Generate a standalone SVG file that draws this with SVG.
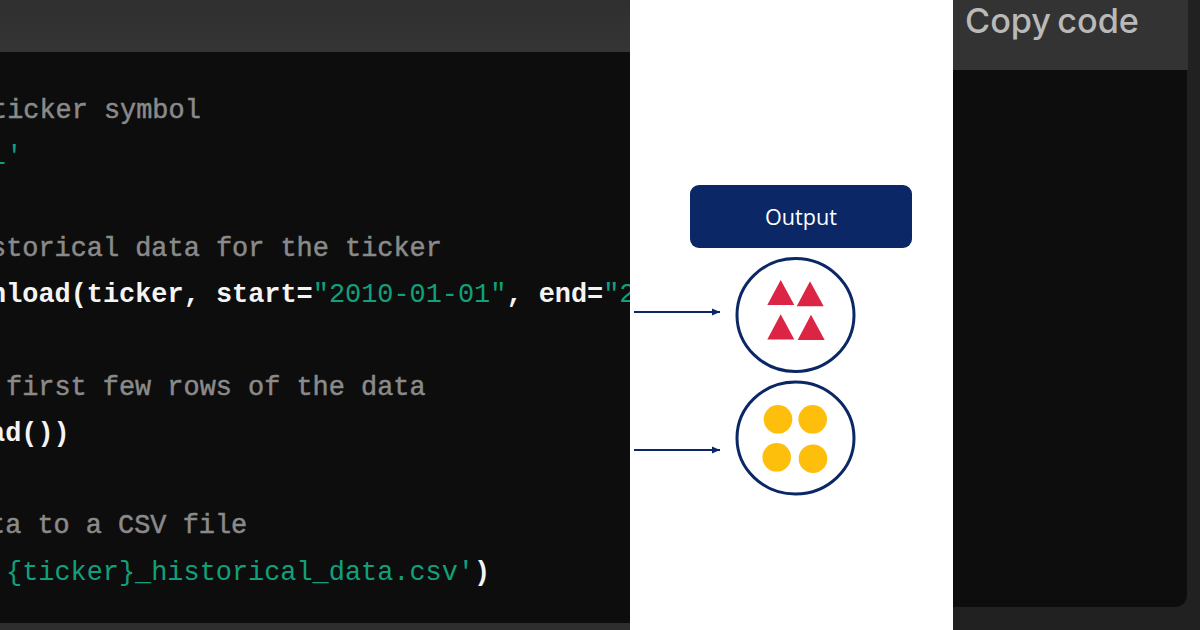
<svg xmlns="http://www.w3.org/2000/svg" width="1200" height="630" viewBox="0 0 1200 630">
<defs>
<marker id="arr" markerUnits="userSpaceOnUse" markerWidth="9" markerHeight="9" refX="8" refY="4.5" orient="auto"><path d="M0 1 L8 4.5 L0 8 Z" fill="#0b2765"/></marker>
<linearGradient id="hdr" x1="0" y1="0" x2="0" y2="1"><stop offset="0" stop-color="#2f2f2f"/><stop offset="1" stop-color="#353535"/></linearGradient>
</defs>
<style>
.code{font-family:"Liberation Mono",monospace;font-size:26.9px;white-space:pre}
.c{fill:#8a8a8a;stroke:#8a8a8a;stroke-width:.5}.w{fill:#f4f4f4;font-weight:bold}.g{fill:#12a07c;font-weight:normal;stroke:none}
.ring{fill:#fff;stroke:#0b2765;stroke-width:3}
.tri{fill:#dc2445}.dot{fill:#fdbf0b}
.conn{stroke:#0b2765;stroke-width:1.8;fill:none;marker-end:url(#arr)}
</style>
<rect id="background" width="1200" height="630" fill="#212121"/>
<g id="left-code-panel">
<rect width="630" height="630" fill="#0d0d0d"/>
<rect width="630" height="52" fill="url(#hdr)"/>
<rect y="623" width="630" height="7" fill="#2e2e2e"/>
<text class="code c" x="-9" y="118">ticker symbol</text>
<text class="code g" x="-10" y="164">L'</text>
<text class="code c" x="-10" y="256">storical data for the ticker</text>
<text class="code w" x="-10" y="302">nload(ticker, start=<tspan class="g">"2010-01-01"</tspan>, end=<tspan class="g">"2</tspan></text>
<text class="code c" x="6" y="395">first few rows of the data</text>
<text class="code w" x="-11" y="441">ad())</text>
<text class="code c" x="-11" y="533">ta to a CSV file</text>
<text class="code g" x="6" y="580">{ticker}_historical_data.csv'<tspan class="w">)</tspan></text>
</g>
<g id="right-code-panel">
<path d="M953 0H1187V595a12 12 0 0 1-12 12H953Z" fill="#0d0d0d"/>
<rect x="953" width="235" height="70" fill="#333"/>
<text x="965" y="33" font-family="Inter,'Noto Sans',sans-serif" font-size="34" font-weight="500" word-spacing="-3" fill="#b9b9b9" textLength="174" lengthAdjust="spacingAndGlyphs">Copy code</text>
</g>
<rect id="white-panel" x="630" width="323" height="630" fill="#fff"/>
<g id="connectors">
<line class="conn" x1="634" y1="312" x2="720" y2="312"/>
<line class="conn" x1="634" y1="450" x2="720" y2="450"/>
</g>
<g id="output-node">
<rect x="690" y="185" width="222" height="63" rx="9" fill="#0b2765"/>
<text x="801" y="225" text-anchor="middle" font-family="'Open Sans','Noto Sans',sans-serif" font-size="21" fill="#fff" textLength="72" lengthAdjust="spacingAndGlyphs">Output</text>
</g>
<g id="triangles-node">
<ellipse class="ring" cx="795.5" cy="315" rx="58.5" ry="56.5"/>
<path class="tri" d="M780.7 280L794.3 305H767.3Z"/>
<path class="tri" d="M810 281.3L823.7 306.3H796.7Z"/>
<path class="tri" d="M780.7 314.3L794.3 339.6H767.3Z"/>
<path class="tri" d="M811 314.7L824.7 340H797.7Z"/>
</g>
<g id="circles-node">
<ellipse class="ring" cx="795.5" cy="438" rx="58.5" ry="56"/>
<circle class="dot" cx="778" cy="419.3" r="14.3"/>
<circle class="dot" cx="812.7" cy="419.3" r="14.3"/>
<circle class="dot" cx="776.7" cy="457.3" r="14.3"/>
<circle class="dot" cx="813" cy="458.7" r="14.3"/>
</g>
</svg>
